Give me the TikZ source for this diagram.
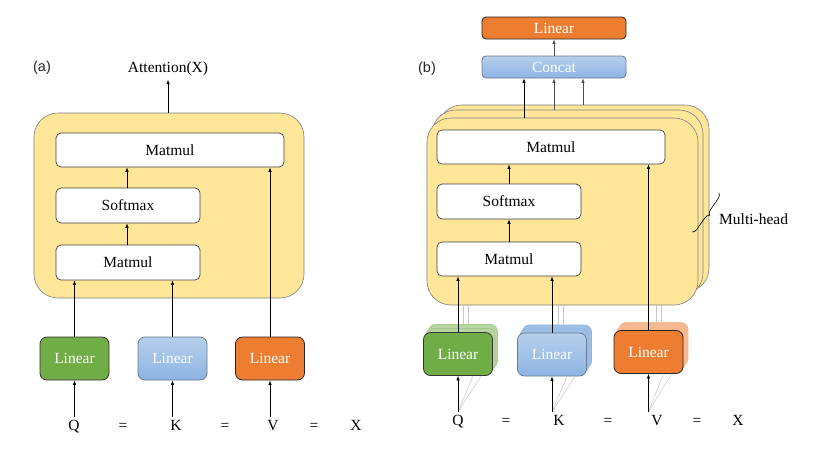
\documentclass[tikz,border=0pt]{standalone}
\usepackage{fontspec}
\setmainfont{Liberation Serif}
\newfontfamily\panelfont{Liberation Sans}
\usetikzlibrary{positioning,calc,arrows.meta,decorations.pathreplacing}
\definecolor{headyellow}{HTML}{FFE699}
\definecolor{headgrey}{HTML}{7F7F7F}
\definecolor{opgrey}{HTML}{404040}
\definecolor{lingreen}{HTML}{70AD47}
\definecolor{linorange}{HTML}{ED7D31}
\definecolor{bluetop}{HTML}{B6CFEC}
\definecolor{bluebot}{HTML}{8EB4E3}
\definecolor{blueedge}{HTML}{6B7A8F}

\begin{document}
\begin{tikzpicture}[x=1pt,y=-1pt,
  every node/.style={font=\fontsize{15.5}{18}\selectfont},
  arr/.style={-{Latex[length=4.5pt,width=3.5pt]},line width=0.7pt},
  ghost/.style={draw=black!22,line width=0.5pt},
  headbox/.style={draw=headgrey,fill=headyellow,rounded corners=24pt,
    minimum width=271pt,minimum height=187pt,inner sep=0pt,line width=0.6pt},
  opbox/.style={draw=opgrey,fill=white,rounded corners=5pt,inner sep=0pt,line width=0.7pt},
  linbox/.style={rounded corners=7pt,minimum width=69pt,minimum height=43pt,
    inner sep=0pt,text=white,line width=0.8pt},
  greenlin/.style={linbox,fill=lingreen,draw=black!80},
  bluelin/.style={linbox,top color=bluetop,bottom color=bluebot,draw=blueedge},
  orangelin/.style={linbox,fill=linorange,draw=black!85},
  greenback/.style={linbox,fill=lingreen!50,draw=lingreen!65},
  blueback/.style={linbox,fill=bluebot!85,draw=bluebot},
  orangeback/.style={linbox,fill=linorange!55,draw=linorange!50},
  letter/.style={inner sep=3pt,text height=10pt,text depth=0pt},
  panel/.style={font=\panelfont\fontsize{14.5}{17}\selectfont,text=black!85}
]
\useasboundingbox (0,0) rectangle (830,467);

% (a) single head
\node[panel] (labA) at (42,68) {(a)};
\node (attn) at (168,69) {Attention(X)};
\node[headbox,minimum width=270pt,minimum height=185pt] (cA) at (169,205.5) {};
\node[opbox,minimum width=228pt,minimum height=34pt] (mm2A) at (170,150) {Matmul};
\node[opbox,minimum width=144pt,minimum height=35pt] (smA) at (128,205.5) {Softmax};
\node[opbox,minimum width=144pt,minimum height=35pt] (mm1A) at (128,262.5) {Matmul};
\node[greenlin] (qA) at (74.5,358.5) {Linear};
\node[bluelin] (kA) at (172.5,358.5) {Linear};
\node[orangelin] (vA) at (270,358.5) {Linear};
\node[letter] (qlA) at (74,425) {Q};
\node[letter] (e1A) at (123,425) {=};
\node[letter] (klA) at (176,425) {K};
\node[letter] (e2A) at (225,425) {=};
\node[letter] (vlA) at (273,425) {V};
\node[letter] (e3A) at (314,425) {=};
\node[letter] (xlA) at (356,425) {X};

\draw[arr] (qA.south |- qlA.north) -- (qA.south);
\draw[arr] (kA.south |- klA.north) -- (kA.south);
\draw[arr] (vA.south |- vlA.north) -- (vA.south);
\draw[arr] (qA.north) -- (qA.north |- mm1A.south);
\draw[arr] (kA.north) -- (kA.north |- mm1A.south);
\draw[arr] (vA.north) -- (vA.north |- mm2A.south);
\draw[arr] ([xshift=-1pt]mm1A.north) -- ([xshift=-1pt]mm1A.north |- smA.south);
\draw[arr] ([xshift=-1pt]smA.north) -- ([xshift=-1pt]smA.north |- mm2A.south);
\draw[arr] (attn.south |- cA.north) -- (attn.south);

% (b) multi-head
\node[panel] (labB) at (427,69) {(b)};
\node[orangelin,minimum width=144pt,minimum height=22pt,rounded corners=4pt] (outlin) at (554,28) {Linear};
\node[bluelin,minimum width=144pt,minimum height=22pt,rounded corners=4pt] (concat) at (554,67) {Concat};
\node[headbox] (cB3) at (573.5,198.5) {};
\node[headbox] (cB2) at (567.5,203.5) {};
\node[headbox] (cB) at (562.5,211.5) {};
\node[opbox,minimum width=228pt,minimum height=34pt] (mm2B) at (551,147) {Matmul};
\node[opbox,minimum width=144pt,minimum height=35pt] (smB) at (509,201.5) {Softmax};
\node[opbox,minimum width=144pt,minimum height=34pt] (mm1B) at (509,259) {Matmul};

\node[greenback] (qB3) at (463,346) {};
\node[greenback] (qB2) at (460.5,350) {};
\node[greenlin] (qB) at (458,354) {Linear};
\node[blueback] (kB3) at (557,346.5) {};
\node[blueback] (kB2) at (554.5,350.5) {};
\node[bluelin] (kB) at (552,354.5) {Linear};
\node[orangeback] (vB3) at (653.5,344) {};
\node[orangeback] (vB2) at (651,348) {};
\node[orangelin] (vB) at (648.5,352) {Linear};

\node[letter] (qlB) at (458,420) {Q};
\node[letter] (e1B) at (506,420) {=};
\node[letter] (klB) at (559,420) {K};
\node[letter] (e2B) at (608,420) {=};
\node[letter] (vlB) at (657,420) {V};
\node[letter] (e3B) at (697,420) {=};
\node[letter] (xlB) at (738,420) {X};

% faint links of the hidden heads
\foreach \n/\s in {qB/5,qB/10,kB/6,kB/11,vB/8,vB/13}
  \draw[ghost] ([xshift=\s pt]\n.north |- cB.south) -- ([xshift=\s pt]\n.north |- \n3.north);
\coordinate (qBin) at (qB.south |- qlB.north);
\coordinate (kBin) at (kB.south |- klB.north);
\coordinate (vBin) at (vB.south |- vlB.north);
\foreach \n in {qB,kB,vB}{
  \draw[ghost] (\n in) -- ([xshift=15pt]\n.south);
  \draw[ghost] (\n in) -- ([xshift=23pt]\n.south);
}

\draw[arr] (qBin) -- (qB.south);
\draw[arr] (kBin) -- (kB.south);
\draw[arr] (vBin) -- (vB.south);
\draw[arr] (qB.north) -- (qB.north |- mm1B.south);
\draw[arr] (kB.north) -- (kB.north |- mm1B.south);
\draw[arr] (vB.north) -- (vB.north |- mm2B.south);
\draw[arr] (mm1B.north) -- (mm1B.north |- smB.south);
\draw[arr] (smB.north) -- (smB.north |- mm2B.south);
\draw[arr] ([xshift=-30pt]concat.south |- cB.north) -- ([xshift=-30pt]concat.south);
\draw[arr,black!70] (concat.south |- cB2.north) -- (concat.south);
\draw[arr,black!70] ([xshift=29pt]concat.south |- cB3.north) -- ([xshift=29pt]concat.south);
\draw[arr,black!70] (concat.north) -- (outlin.south);

\draw[decorate,decoration={brace,amplitude=5pt},line width=0.6pt] (719,193) -- (692,232);
\node[anchor=west,inner sep=0pt] (mhead) at (719,219) {Multi-head};
\end{tikzpicture}
\end{document}
